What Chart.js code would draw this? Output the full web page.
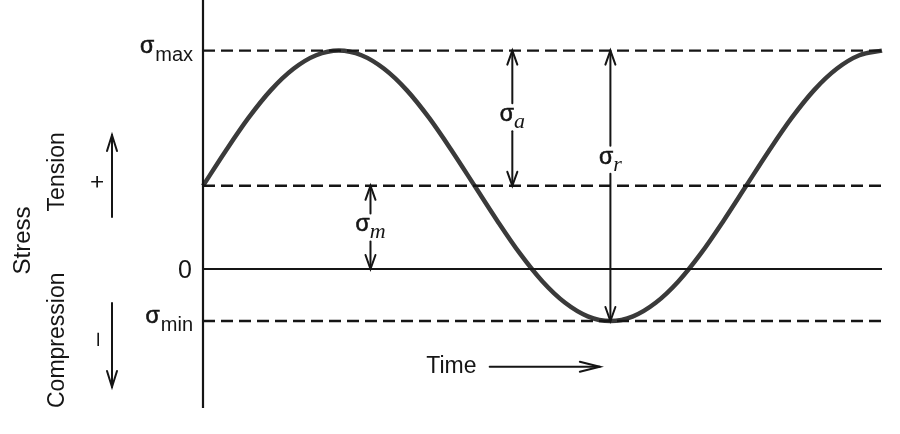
<!DOCTYPE html>
<html>
<head>
<meta charset="utf-8">
<script src="https://cdn.jsdelivr.net/npm/chart.js@4.4.1/dist/chart.umd.min.js"></script>
<style>
  html, body { margin: 0; padding: 0; background: #fff; }
</style>
</head>
<body>
<canvas id="grafico" width="900" height="434"></canvas>
<script>
// cycle time (degrees of phase) and stress
const time = [0, 15, 30, 45, 60, 75, 90, 105, 120, 135, 150, 165, 180, 195, 210, 225,
              240, 255, 270, 285, 300, 315, 330, 345, 360, 375, 390, 405, 420, 435, 450];
const stress = [1.60, 2.27, 2.90, 3.44, 3.85, 4.11, 4.20, 4.11, 3.85, 3.44, 2.90, 2.27, 1.60,
                0.93, 0.30, -0.24, -0.65, -0.91, -1.00, -0.91, -0.65, -0.24, 0.30, 0.93,
                1.60, 2.27, 2.90, 3.44, 3.85, 4.11, 4.20];

// reference levels
const sigmaMax = 4.2;
const sigmaMean = 1.6;
const sigmaMin = -1.0;

// axis ranges
const timeRange = [0, 450];
const stressRange = [-2.673, 5.173];

const curve = time.map((t, i) => ({ x: t, y: stress[i] }));

function level(v) {
    return [{ x: timeRange[0], y: v }, { x: timeRange[1], y: v }];
}

const ink = '#151515';
const sans = '"Liberation Sans", Arial, sans-serif';
const serif = '"Liberation Serif", "Times New Roman", serif';
const sigmaFont = '23px ' + sans;

function arrowHead(ctx, x, y, dx, dy, len, half) {
    // dx, dy = unit direction the arrow points to
    const bx = x - dx * len, by = y - dy * len;
    ctx.beginPath();
    ctx.moveTo(bx - dy * half, by + dx * half);
    ctx.lineTo(x, y);
    ctx.lineTo(bx + dy * half, by - dx * half);
    ctx.stroke();
}

function line(ctx, x1, y1, x2, y2) {
    ctx.beginPath();
    ctx.moveTo(x1, y1);
    ctx.lineTo(x2, y2);
    ctx.stroke();
}

function sigma(ctx, x, baseline) {
    ctx.font = sigmaFont;
    ctx.fillText('σ', x, baseline);
    ctx.lineWidth = 0.6;
    ctx.strokeText('σ', x, baseline);
    ctx.lineWidth = 2;
}

// double arrow between two pixel rows with a gap for the label
function dimension(ctx, x, yTop, yBot, yMid, sub) {
    const gap = 14;
    line(ctx, x, yTop, x, yMid - gap);
    line(ctx, x, yMid + gap, x, yBot);
    arrowHead(ctx, x, yTop, 0, -1, 14, 5);
    arrowHead(ctx, x, yBot, 0, 1, 14, 5);
    ctx.font = sigmaFont;
    const ws = ctx.measureText('σ').width;
    ctx.font = 'italic 22px ' + serif;
    const wsub = ctx.measureText(sub).width;
    const x0 = x - (ws + wsub) / 2;
    ctx.textAlign = 'left';
    ctx.textBaseline = 'alphabetic';
    sigma(ctx, x0, yMid + 4);
    ctx.font = 'italic 22px ' + serif;
    ctx.fillText(sub, x0 + ws, yMid + 11);
}

function levelLabel(ctx, xRight, yPix, sub) {
    ctx.textAlign = 'right';
    ctx.textBaseline = 'alphabetic';
    ctx.font = '20px ' + sans;
    const wsub = ctx.measureText(sub).width;
    ctx.fillText(sub, xRight, yPix + 10);
    sigma(ctx, xRight - wsub - 1, yPix + 2);
}

function upright(ctx, text, xBase, yCenter, font) {
    ctx.save();
    ctx.translate(xBase, yCenter);
    ctx.rotate(-Math.PI / 2);
    ctx.font = font;
    ctx.textAlign = 'center';
    ctx.textBaseline = 'alphabetic';
    ctx.fillText(text, 0, 0);
    ctx.restore();
}

const labels = {
    id: 'labels',
    afterDatasetsDraw(chart) {
        const { ctx, chartArea, scales: { x, y } } = chart;
        const left = chartArea.left;
        const y0 = y.getPixelForValue(0);
        const yMax = y.getPixelForValue(sigmaMax);
        const yMean = y.getPixelForValue(sigmaMean);
        const yMin = y.getPixelForValue(sigmaMin);

        ctx.save();
        ctx.fillStyle = ink;
        ctx.strokeStyle = ink;
        ctx.lineWidth = 2;
        ctx.lineCap = 'round';

        // level labels left of the axis
        levelLabel(ctx, left - 10, yMax, 'max');
        levelLabel(ctx, left - 10, yMin, 'min');
        ctx.font = '25px ' + sans;
        ctx.textAlign = 'right';
        ctx.fillText('0', left - 11, y0 + 9);

        // dimension arrows
        dimension(ctx, x.getPixelForValue(111), yMean, y0, (yMean + y0) / 2, 'm');
        dimension(ctx, x.getPixelForValue(205), yMax, yMean, (yMax + yMean) / 2 - 1, 'a');
        dimension(ctx, x.getPixelForValue(270), yMax, yMin, y.getPixelForValue(2.1), 'r');

        // axis title column
        upright(ctx, 'Stress', left - 173, y.getPixelForValue(0.55), '24px ' + sans);
        upright(ctx, 'Tension', left - 139, y.getPixelForValue(1.87), '23px ' + sans);
        upright(ctx, 'Compression', left - 139, y.getPixelForValue(-1.37), '23px ' + sans);
        upright(ctx, '+', left - 98, y.getPixelForValue(1.68), '24px ' + sans);
        upright(ctx, '–', left - 99, y.getPixelForValue(-1.35), '24px ' + sans);

        const ax = left - 91;
        line(ctx, ax, y0 - 52, ax, y0 - 134);
        arrowHead(ctx, ax, y0 - 134, 0, -1, 16, 5);
        line(ctx, ax, y0 + 34, ax, y0 + 118);
        arrowHead(ctx, ax, y0 + 118, 0, 1, 16, 5);

        // time label
        const yTime = y.getPixelForValue(-1.88);
        ctx.font = '23px ' + sans;
        ctx.textAlign = 'left';
        ctx.fillText('Time', x.getPixelForValue(148), yTime + 6);
        const tx1 = x.getPixelForValue(190), tx2 = x.getPixelForValue(263);
        line(ctx, tx1, yTime, tx2, yTime);
        arrowHead(ctx, tx2, yTime, 1, 0, 20, 5);

        ctx.restore();
    }
};

const ctx = document.getElementById('grafico').getContext('2d');

new Chart(ctx, {
    type: 'line',
    data: {
        datasets: [
            { data: level(sigmaMax), borderColor: ink, borderWidth: 2.4, borderDash: [12, 6] },
            { data: level(sigmaMean), borderColor: ink, borderWidth: 2.4, borderDash: [12, 6] },
            { data: level(sigmaMin), borderColor: ink, borderWidth: 2.4, borderDash: [12, 6] },
            { data: level(0), borderColor: ink, borderWidth: 2.2 },
            { data: [{ x: 0, y: stressRange[0] }, { x: 0, y: stressRange[1] }], borderColor: ink, borderWidth: 2.2 },
            { data: curve, borderColor: '#3a3a3a', borderWidth: 4.5, cubicInterpolationMode: 'monotone' }
        ]
    },
    options: {
        responsive: false,
        animation: false,
        devicePixelRatio: 1,
        layout: { padding: { left: 203, right: 18, top: 0, bottom: 26 } },
        datasets: { line: { pointRadius: 0, clip: false, fill: false } },
        plugins: { legend: { display: false }, tooltip: { enabled: false } },
        scales: {
            x: { type: 'linear', min: timeRange[0], max: timeRange[1], display: false },
            y: { type: 'linear', min: stressRange[0], max: stressRange[1], display: false }
        }
    },
    plugins: [labels]
});
</script>
</body>
</html>
